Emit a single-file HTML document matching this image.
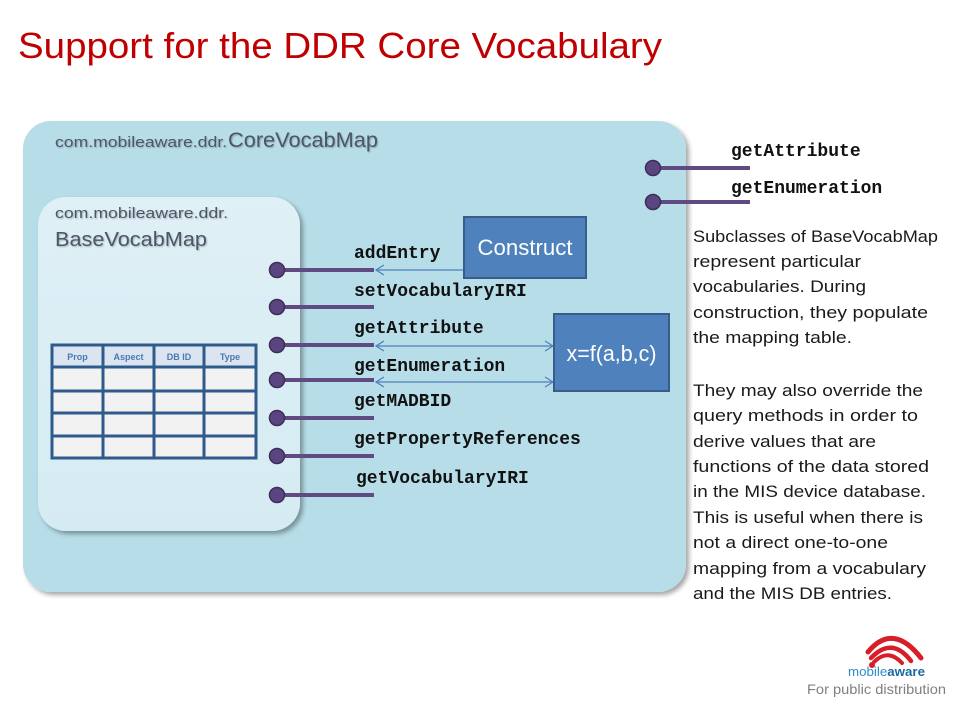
<!DOCTYPE html>
<html>
<head>
<meta charset="utf-8">
<style>
  html, body { margin:0; padding:0; background:#ffffff; }
  svg { display:block; }
</style>
</head>
<body>
<svg width="960" height="720" viewBox="0 0 960 720" xmlns="http://www.w3.org/2000/svg">
  <defs>
    <filter id="sh" x="-10%" y="-10%" width="130%" height="130%">
      <feDropShadow dx="3" dy="3" stdDeviation="2.5" flood-color="#000" flood-opacity="0.35"/>
    </filter>
    <filter id="tsh" x="-5%" y="-20%" width="110%" height="150%">
      <feDropShadow dx="1" dy="1" stdDeviation="0.8" flood-color="#000" flood-opacity="0.25"/>
    </filter>
    <linearGradient id="inner" x1="0" y1="0" x2="0" y2="1">
      <stop offset="0" stop-color="#dff0f6"/>
      <stop offset="1" stop-color="#d5ebf2"/>
    </linearGradient>
  </defs>

  <!-- Title -->
  <text x="18" y="58" font-family="Liberation Sans, sans-serif" font-size="36" fill="#c00000" textLength="644" lengthAdjust="spacingAndGlyphs">Support for the DDR Core Vocabulary</text>

  <!-- Outer box -->
  <rect x="23" y="121" width="663" height="471" rx="28" ry="28" fill="#b7dde8" filter="url(#sh)"/>

  <!-- Outer label -->
  <g filter="url(#tsh)" font-family="Liberation Sans, sans-serif" fill="#4e5568">
    <text x="55" y="147" font-size="15" textLength="172" lengthAdjust="spacingAndGlyphs">com.mobileaware.ddr.</text>
    <text x="228" y="147" font-size="21" textLength="150" lengthAdjust="spacingAndGlyphs">CoreVocabMap</text>
  </g>

  <!-- Inner box -->
  <rect x="38" y="197" width="262" height="334" rx="28" ry="28" fill="url(#inner)" filter="url(#sh)"/>

  <g filter="url(#tsh)" font-family="Liberation Sans, sans-serif" fill="#4e5568">
    <text x="55" y="218" font-size="15" textLength="173" lengthAdjust="spacingAndGlyphs">com.mobileaware.ddr.</text>
    <text x="55" y="246" font-size="20" textLength="152" lengthAdjust="spacingAndGlyphs">BaseVocabMap</text>
  </g>

  <!-- Table -->
  <rect x="52" y="345" width="204" height="22" fill="#dbe5f1"/>
  <rect x="52" y="367" width="204" height="91" fill="#f2f2f2"/>
  <g stroke="#2f5b8c" stroke-width="3" fill="none">
    <rect x="52" y="345" width="204" height="113"/>
    <line x1="103" y1="345" x2="103" y2="458"/>
    <line x1="154" y1="345" x2="154" y2="458"/>
    <line x1="204" y1="345" x2="204" y2="458"/>
    <line x1="52" y1="367" x2="256" y2="367"/>
    <line x1="52" y1="391" x2="256" y2="391"/>
    <line x1="52" y1="413" x2="256" y2="413"/>
    <line x1="52" y1="436" x2="256" y2="436"/>
  </g>
  <g font-family="Liberation Sans, sans-serif" font-size="9" font-weight="bold" fill="#4a78b0" text-anchor="middle">
    <text x="77.5" y="360">Prop</text>
    <text x="128.5" y="360">Aspect</text>
    <text x="179" y="360">DB ID</text>
    <text x="230" y="360">Type</text>
  </g>

  <!-- Pins -->
  <g stroke="#5f4a82" stroke-width="4">
    <line x1="277" y1="270" x2="374" y2="270"/>
    <line x1="277" y1="307" x2="374" y2="307"/>
    <line x1="277" y1="345" x2="374" y2="345"/>
    <line x1="277" y1="380" x2="374" y2="380"/>
    <line x1="277" y1="418" x2="374" y2="418"/>
    <line x1="277" y1="456" x2="374" y2="456"/>
    <line x1="277" y1="495" x2="374" y2="495"/>
    <line x1="653" y1="168" x2="750" y2="168"/>
    <line x1="653" y1="202" x2="750" y2="202"/>
  </g>
  <g fill="#5b4580" stroke="#3d2e58" stroke-width="1.5">
    <circle cx="277" cy="270" r="7.5"/>
    <circle cx="277" cy="307" r="7.5"/>
    <circle cx="277" cy="345" r="7.5"/>
    <circle cx="277" cy="380" r="7.5"/>
    <circle cx="277" cy="418" r="7.5"/>
    <circle cx="277" cy="456" r="7.5"/>
    <circle cx="277" cy="495" r="7.5"/>
    <circle cx="653" cy="168" r="7.5"/>
    <circle cx="653" cy="202" r="7.5"/>
  </g>

  <!-- Method labels -->
  <g font-family="Liberation Mono, monospace" font-size="18" font-weight="bold" fill="#111">
    <text x="354" y="258">addEntry</text>
    <text x="354" y="296">setVocabularyIRI</text>
    <text x="354" y="333">getAttribute</text>
    <text x="354" y="371">getEnumeration</text>
    <text x="354" y="406">getMADBID</text>
    <text x="354" y="444">getPropertyReferences</text>
    <text x="356" y="483">getVocabularyIRI</text>
    <text x="731" y="156">getAttribute</text>
    <text x="731" y="193">getEnumeration</text>
  </g>

  <!-- Arrows -->
  <g stroke="#4f81bd" stroke-width="1.2" fill="none">
    <line x1="376" y1="270" x2="464" y2="270"/>
    <polyline points="384,265 376,270 384,275"/>
    <line x1="376" y1="346" x2="553" y2="346"/>
    <polyline points="384,341 376,346 384,351"/>
    <polyline points="545,341 553,346 545,351"/>
    <line x1="376" y1="382" x2="553" y2="382"/>
    <polyline points="384,377 376,382 384,387"/>
    <polyline points="545,377 553,382 545,387"/>
  </g>

  <!-- Construct box -->
  <rect x="464" y="217" width="122" height="61" fill="#4f81bd" stroke="#385d8a" stroke-width="2"/>
  <text x="525" y="255" font-family="Liberation Sans, sans-serif" font-size="22" fill="#ffffff" text-anchor="middle" textLength="95" lengthAdjust="spacingAndGlyphs">Construct</text>

  <!-- x=f(a,b,c) box -->
  <rect x="554" y="314" width="115" height="77" fill="#4f81bd" stroke="#385d8a" stroke-width="2"/>
  <text x="611.5" y="361" font-family="Liberation Sans, sans-serif" font-size="22" fill="#ffffff" text-anchor="middle" textLength="90" lengthAdjust="spacingAndGlyphs">x=f(a,b,c)</text>

  <!-- Paragraph -->
  <g font-family="Liberation Sans, sans-serif" font-size="17" fill="#1a1a1a">
    <text x="693" y="242" textLength="245" lengthAdjust="spacingAndGlyphs">Subclasses of BaseVocabMap</text>
    <text x="693" y="267" textLength="168" lengthAdjust="spacingAndGlyphs">represent particular</text>
    <text x="693" y="292" textLength="173" lengthAdjust="spacingAndGlyphs">vocabularies. During</text>
    <text x="693" y="318" textLength="235" lengthAdjust="spacingAndGlyphs">construction, they populate</text>
    <text x="693" y="343" textLength="159" lengthAdjust="spacingAndGlyphs">the mapping table.</text>
    <text x="693" y="396" textLength="230" lengthAdjust="spacingAndGlyphs">They may also override the</text>
    <text x="693" y="421" textLength="225" lengthAdjust="spacingAndGlyphs">query methods in order to</text>
    <text x="693" y="447" textLength="183" lengthAdjust="spacingAndGlyphs">derive values that are</text>
    <text x="693" y="472" textLength="236" lengthAdjust="spacingAndGlyphs">functions of the data stored</text>
    <text x="693" y="497" textLength="233" lengthAdjust="spacingAndGlyphs">in the MIS device database.</text>
    <text x="693" y="523" textLength="230" lengthAdjust="spacingAndGlyphs">This is useful when there is</text>
    <text x="693" y="548" textLength="195" lengthAdjust="spacingAndGlyphs">not a direct one-to-one</text>
    <text x="693" y="574" textLength="233" lengthAdjust="spacingAndGlyphs">mapping from a vocabulary</text>
    <text x="693" y="599" textLength="199" lengthAdjust="spacingAndGlyphs">and the MIS DB entries.</text>
  </g>

  <!-- Logo -->
  <g fill="none" stroke="#d81e27" stroke-linecap="round">
    <path d="M 868 652 Q 893 622 921 658" stroke-width="5"/>
    <path d="M 871 658 Q 892 636 911 661" stroke-width="4.5"/>
    <path d="M 874 662 Q 888 648 902 663" stroke-width="4"/>
  </g>
  <circle cx="872" cy="665" r="3" fill="#d81e27"/>
  <text x="848" y="676" font-family="Liberation Sans, sans-serif" font-size="13" textLength="77" lengthAdjust="spacingAndGlyphs"><tspan fill="#2b8fc4">mobile</tspan><tspan fill="#1b6aa3" font-weight="bold">aware</tspan></text>
  <text x="807" y="694" font-family="Liberation Sans, sans-serif" font-size="14" fill="#7f7f7f" textLength="139" lengthAdjust="spacingAndGlyphs">For public distribution</text>
</svg>
</body>
</html>
